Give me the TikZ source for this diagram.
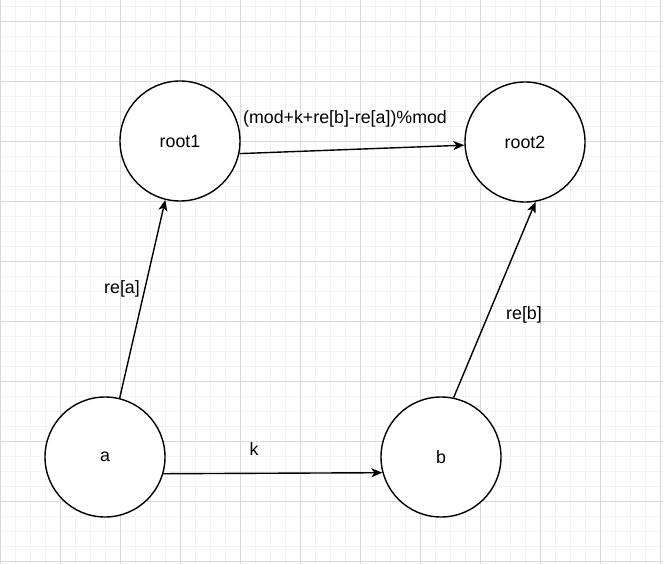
\documentclass[tikz,border=0pt]{standalone}
\usepackage{fontspec}
\setmainfont{Liberation Sans}
\usetikzlibrary{arrows.meta}
\definecolor{gridminor}{HTML}{F2F2F2}
\definecolor{gridmajor}{HTML}{DADADA}
\tikzset{
  vertex/.style={circle, draw=black, fill=white, line width=1.4pt, minimum size=120pt, inner sep=0pt, font=\fontsize{17.8pt}{20pt}\selectfont},
  lbl/.style={inner sep=0pt, font=\fontsize{17.8pt}{20pt}\selectfont},
  conn/.style={line width=1.4pt, -{Stealth[length=11pt,width=9pt,inset=3pt]}},
}
\begin{document}
\begin{tikzpicture}[x=1pt,y=-1pt]
\useasboundingbox (0,0) rectangle (663,564);
\fill[white] (0,0) rectangle (663,564);
% minor grid
\foreach \i in {0,...,44} {\draw[gridminor, line width=1pt] ({15*\i},0) -- ({15*\i},564);}
\foreach \j in {0,...,37} {\draw[gridminor, line width=1pt] (0,{6.5+15*\j}) -- (663,{6.5+15*\j});}
% major grid
\foreach \i in {0,...,11} {\draw[gridmajor, line width=1pt] ({60*\i},0) -- ({60*\i},564);}
\foreach \j in {0,...,9} {\draw[gridmajor, line width=1pt] (0,{21.5+60*\j}) -- (663,{21.5+60*\j});}
% nodes
\node[vertex] (root1) at (180,141) {root1};
\node[vertex] (root2) at (525,142) {root2};
\node[vertex] (a) at (105,457) {a};
\node[vertex] (b) at (441,457) {b};
% connectors
\draw[conn] (a.76) -- (root1.256);
\draw[conn] (root1.-12) -- (root2.183);
\draw[conn] (a.-16) -- (b.195);
\draw[conn] (b.78) -- (root2.-80);
% labels
\node[lbl] (la) at (122,289) {re[a]};
\node[lbl] (lr) at (345,119) {(mod+k+re[b]-re[a])\%mod};
\node[lbl] (lk) at (254,449) {k};
\node[lbl] (lb) at (524,315) {re[b]};
\end{tikzpicture}
\end{document}
